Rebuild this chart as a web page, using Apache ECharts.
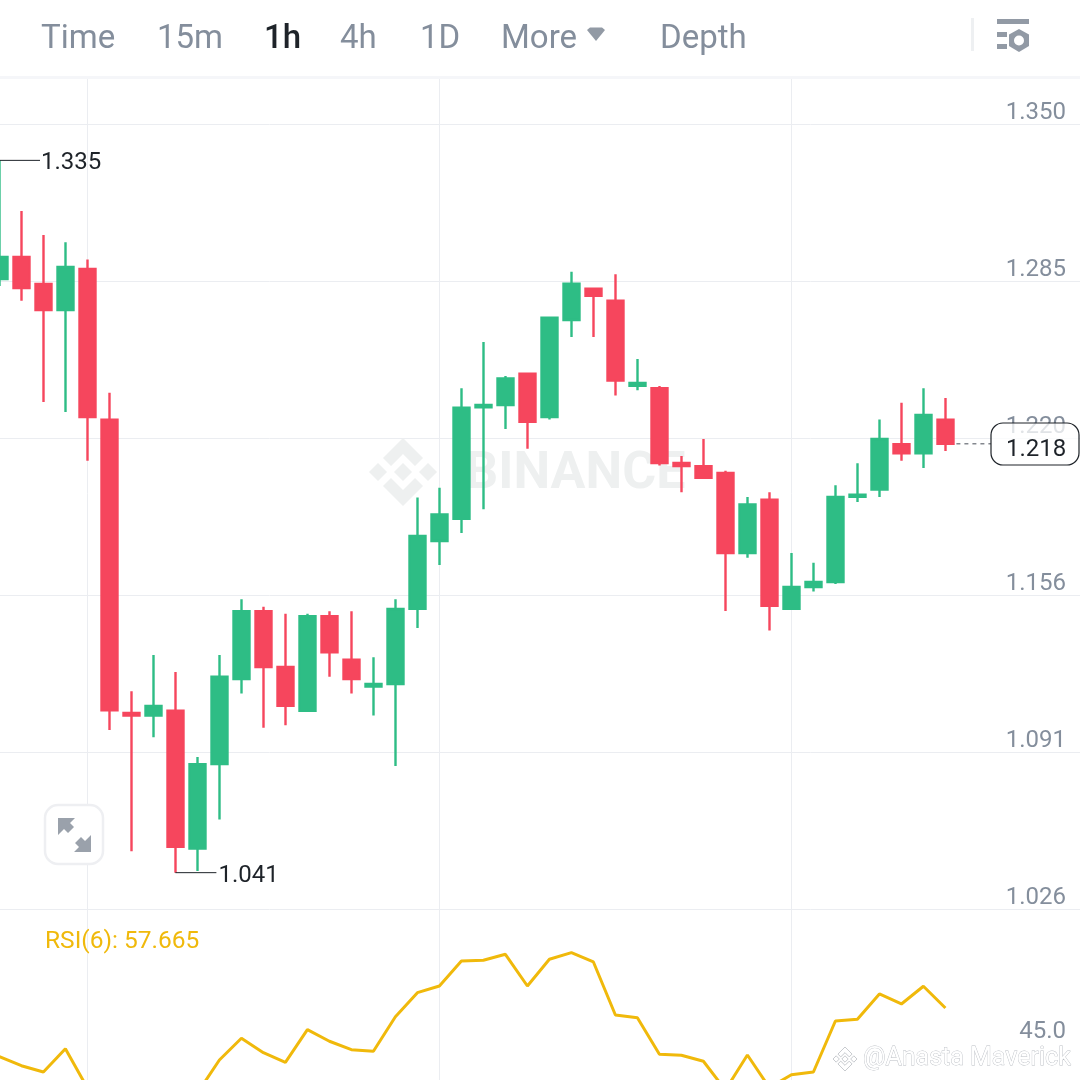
<!DOCTYPE html>
<html>
<head>
<meta charset="utf-8">
<title>RSI candles</title>
<style>
html, body { margin: 0; padding: 0; background: #fff; }
#main { width: 1080px; height: 1080px; }
</style>
<script src="https://cdn.jsdelivr.net/npm/echarts@6/dist/echarts.min.js"></script>
</head>
<body>
<div id="main"></div>
<script>
var opens = [1.2860,1.2951,1.2840,1.2732,1.2902,1.2280,1.1069,1.1058,1.1078,1.0509,1.0858,1.1209,1.1489,1.1259,1.1078,1.1469,1.1289,1.1178,1.1189,1.1499,1.1779,1.1871,1.2331,1.2340,1.2469,1.2291,1.2691,1.2820,1.2771,1.2420,1.2410,1.2101,1.2088,1.2060,1.1729,1.1949,1.1499,1.1589,1.1610,1.1961,1.1991,1.2179,1.2141,1.2280];
var closes = [1.2951,1.2823,1.2732,1.2910,1.2291,1.1080,1.1058,1.1098,1.0517,1.0858,1.1219,1.1489,1.1259,1.1099,1.1469,1.1320,1.1209,1.1189,1.1498,1.1800,1.1889,1.2329,1.2341,1.2450,1.2271,1.2701,1.2841,1.2791,1.2441,1.2431,1.2101,1.2088,1.2040,1.1729,1.1930,1.1511,1.1589,1.1610,1.1961,1.1970,1.2200,1.2141,1.2299,1.2180];
var lows = [1.2831,1.2771,1.2353,1.2311,1.2110,1.0999,1.0498,1.0969,1.0410,1.0417,1.0629,1.1149,1.1008,1.1018,1.1078,1.1219,1.1149,1.1059,1.0850,1.1420,1.1680,1.1812,1.1910,1.2241,1.2160,1.2280,1.2621,1.2621,1.2380,1.2401,1.2091,1.1980,1.2040,1.1490,1.1710,1.1410,1.1499,1.1570,1.1601,1.1940,1.1961,1.2110,1.2080,1.2150];
var highs = [1.3351,1.3141,1.3042,1.3012,1.2941,1.2391,1.1159,1.1308,1.1238,1.0887,1.1308,1.1538,1.1508,1.1479,1.1479,1.1489,1.1489,1.1299,1.1538,1.1959,1.1999,1.2409,1.2600,1.2460,1.2469,1.2701,1.2890,1.2820,1.2880,1.2530,1.2419,1.2130,1.2200,1.2069,1.1961,1.1980,1.1729,1.1689,1.2009,1.2100,1.2280,1.2350,1.2409,1.2369];
var rsiValues = [40.04,36.78,34.5,42.94,28.71,12.06,14.2,17.1,9.9,26.9,38.85,46.7,41.49,38.01,49.81,45.62,42.57,42.0,54.52,63.21,65.63,74.68,74.94,77.11,65.63,75.3,77.69,74.32,55.14,54.16,40.91,40.55,38.38,27.99,40.66,28.82,33.52,34.5,52.96,53.58,62.74,59.12,65.53,57.665];
var priceTicks = [1.026,1.0908,1.1556,1.2204,1.2852,1.35];
var rsiTicks = [45];
var periods = ['Time','15m','1h','4h','1D','More','Depth'];
var lastPrice = 1.218;
var highPrice = 1.335;
var lowPrice = 1.041;

var GREEN = '#2EBD85', RED = '#F6465D', GREY = '#848E9C', DARK = '#1E2329', LINE = '#EBEDF1';
var FONT = 'Roboto';
var PAD = 6; // empty slots on the right of the last candle

var categories = [];
var candles = [];
for (var i = 0; i < opens.length + PAD; i++) {
    categories.push(i);
    if (i < opens.length) candles.push([opens[i], closes[i], lows[i], highs[i]]);
}

var chart = echarts.init(document.getElementById('main'));

function xAxisFor(idx) {
    return {
        type: 'category', gridIndex: idx, data: categories,
        axisLine: { show: false }, axisTick: { show: false }, axisLabel: { show: false },
        splitLine: {
            show: true, alignWithLabel: true,
            lineStyle: { color: LINE, width: 1 },
            interval: function (n) { return n % 16 === 4; }
        }
    };
}

chart.setOption({
    animation: false,
    backgroundColor: '#fff',
    textStyle: { fontFamily: FONT },
    grid: [
        { left: -11.6, right: -8.4, top: 78, height: 831, outerBoundsMode: 'none' },
        { left: -11.6, right: -8.4, top: 909, height: 171, outerBoundsMode: 'none' }
    ],
    xAxis: [xAxisFor(0), xAxisFor(1)],
    yAxis: [
        {
            type: 'value', gridIndex: 0, position: 'right', min: 1.026, max: 1.369, scale: true,
            axisLine: { show: false },
            axisTick: { show: false, customValues: priceTicks },
            splitLine: { show: true, lineStyle: { color: LINE, width: 1 } },
            axisLabel: {
                inside: true, margin: 22.4, color: GREY, fontSize: 24, fontFamily: FONT,
                verticalAlign: 'bottom', lineHeight: 22,
                showMinLabel: true, showMaxLabel: true,
                customValues: priceTicks,
                formatter: function (v) { return v.toFixed(3); }
            }
        },
        {
            type: 'value', gridIndex: 1, position: 'right', min: 31.6, max: 93.5,
            axisLine: { show: false },
            axisTick: { show: false, customValues: rsiTicks },
            splitLine: { show: false },
            axisLabel: {
                inside: true, margin: 22.4, color: GREY, fontSize: 24, fontFamily: FONT,
                verticalAlign: 'bottom', lineHeight: 22,
                customValues: rsiTicks,
                formatter: function (v) { return v.toFixed(1); }
            }
        }
    ],
    series: [
        {
            type: 'candlestick', xAxisIndex: 0, yAxisIndex: 0, data: candles, barWidth: 17, z: 5,
            itemStyle: { color: GREEN, color0: RED, borderColor: GREEN, borderColor0: RED, borderWidth: 2.4 }
        },
        {
            type: 'line', xAxisIndex: 1, yAxisIndex: 1, data: rsiValues, showSymbol: false, z: 5,
            lineStyle: { color: '#F0B90B', width: 3 }
        }
    ]
});

// pixel spots of the labelled prices, from the chart's own scales
var hiPt = chart.convertToPixel({ gridIndex: 0 }, [0, highPrice]);
var loPt = chart.convertToPixel({ gridIndex: 0 }, [8, lowPrice]);
var lastPt = chart.convertToPixel({ gridIndex: 0 }, [opens.length - 1, lastPrice]);

var periodX = [41, 157, 264, 340, 420, 501, 660];
var deco = [];

function label(x, y, text, color, size, extra) {
    var st = { x: x, y: y, text: text, fill: color, fontSize: size, fontFamily: FONT, textVerticalAlign: 'middle' };
    for (var k in (extra || {})) st[k] = extra[k];
    return { type: 'text', z: 30, silent: true, style: st };
}
function poly(points, fill, z) {
    return { type: 'polygon', z: z || 30, silent: true, shape: { points: points }, style: { fill: fill } };
}
function rect(x, y, w, h, fill) {
    return { type: 'rect', z: 30, silent: true, shape: { x: x, y: y, width: w, height: h }, style: { fill: fill } };
}

// header
deco.push(rect(0, 0, 1080, 76, '#fff'));
deco.push(rect(0, 76, 1080, 3, '#F5F6F9'));
periods.forEach(function (p, n) {
    deco.push(label(periodX[n], 40, p, p === '1h' ? DARK : GREY, 33,
        p === '1h' ? { fontWeight: 500 } : {}));
});
deco.push(poly([[587, 30], [590, 27.5], [602, 27.5], [605, 30], [596, 41]], '#929AA5'));
deco.push(rect(971, 18, 3, 33, '#EEF0F2'));
deco.push(rect(997, 19, 32, 5, '#929AA5'));
deco.push(rect(997, 32, 10, 5, '#929AA5'));
deco.push(rect(997, 44, 10, 5, '#929AA5'));
deco.push(poly([[1019, 29], [1029, 34.5], [1029, 46], [1019, 52], [1009, 46], [1009, 34.5]], '#929AA5'));
deco.push({ type: 'circle', z: 31, silent: true, shape: { cx: 1019, cy: 40.5, r: 5 }, style: { fill: '#fff' } });

// Binance watermark, under the candles
var wm = '#EEF0F0';
function logo(cx, cy, r, fill, stroke) {
    var s = r / 34;
    function p(a) { return a.map(function (q) { return [cx + q[0] * s, cy + q[1] * s]; }); }
    var parts = [
        [[0, -9], [9, 0], [0, 9], [-9, 0]],
        [[-25, -9], [-16, 0], [-25, 9], [-34, 0]],
        [[25, -9], [34, 0], [25, 9], [16, 0]],
        [[0, -34], [20, -14], [12, -6], [0, -18], [-12, -6], [-20, -14]],
        [[0, 34], [-20, 14], [-12, 6], [0, 18], [12, 6], [20, 14]]
    ];
    parts.forEach(function (a) {
        deco.push({ type: 'polygon', z: stroke ? 31 : 1, silent: true, shape: { points: p(a) },
            style: stroke ? { fill: '#fff', stroke: fill, lineWidth: 1 } : { fill: fill } });
    });
}
logo(403, 472, 34, wm);
deco.push({ type: 'text', z: 1, silent: true, style: {
    x: 465, y: 475, text: 'BINANCE', fill: wm, fontSize: 52, fontWeight: 700,
    fontFamily: FONT, textVerticalAlign: 'middle'
} });

// high and low marks
deco.push({ type: 'line', z: 20, silent: true, shape: { x1: hiPt[0], y1: hiPt[1], x2: 40, y2: hiPt[1] }, style: { stroke: DARK, lineWidth: 1 } });
deco.push(label(41, hiPt[1] + 3, highPrice.toFixed(3), DARK, 24));
deco.push({ type: 'line', z: 20, silent: true, shape: { x1: loPt[0], y1: loPt[1], x2: loPt[0] + 41, y2: loPt[1] }, style: { stroke: DARK, lineWidth: 1 } });
deco.push(label(loPt[0] + 43, loPt[1] + 3, lowPrice.toFixed(3), DARK, 24));

// last price tag
deco.push({ type: 'line', z: 20, silent: true, shape: { x1: lastPt[0] + 11, y1: lastPt[1], x2: 991, y2: lastPt[1] },
    style: { stroke: '#474D57', lineWidth: 1, lineDash: [4, 4] } });
deco.push({ type: 'rect', z: 25, silent: true, shape: { x: 991, y: 423, width: 88, height: 42, r: 12 },
    style: { fill: 'rgba(255,255,255,0.75)', stroke: DARK, lineWidth: 1.2 } });
deco.push(label(1006, 450, lastPrice.toFixed(3), DARK, 24));

// expand button
deco.push({ type: 'rect', z: 25, silent: true, shape: { x: 45, y: 805, width: 58, height: 59, r: 13 },
    style: { fill: '#fff', stroke: '#EEEFF2', lineWidth: 2.5 } });
deco.push(poly([[58, 818], [75, 818], [70, 823], [74, 827], [68, 833], [64, 829], [58, 835]], '#9AA1AB'));
deco.push(poly([[91, 852], [74, 852], [79, 847], [75, 843], [81, 837], [85, 841], [91, 835]], '#9AA1AB'));

// RSI legend
deco.push(label(45, 942, 'RSI(6): ' + rsiValues[rsiValues.length - 1].toFixed(3), '#F0B90B', 24.5));

// reposter mark, bottom right
logo(845, 1059, 12, '#C8CBCF', true);
deco.push(label(863, 1059, '@Anasta Maverick', '#fff', 25, { stroke: '#B9BDC3', lineWidth: 0.8 }));

chart.setOption({ graphic: { elements: deco } });
</script>
</body>
</html>
